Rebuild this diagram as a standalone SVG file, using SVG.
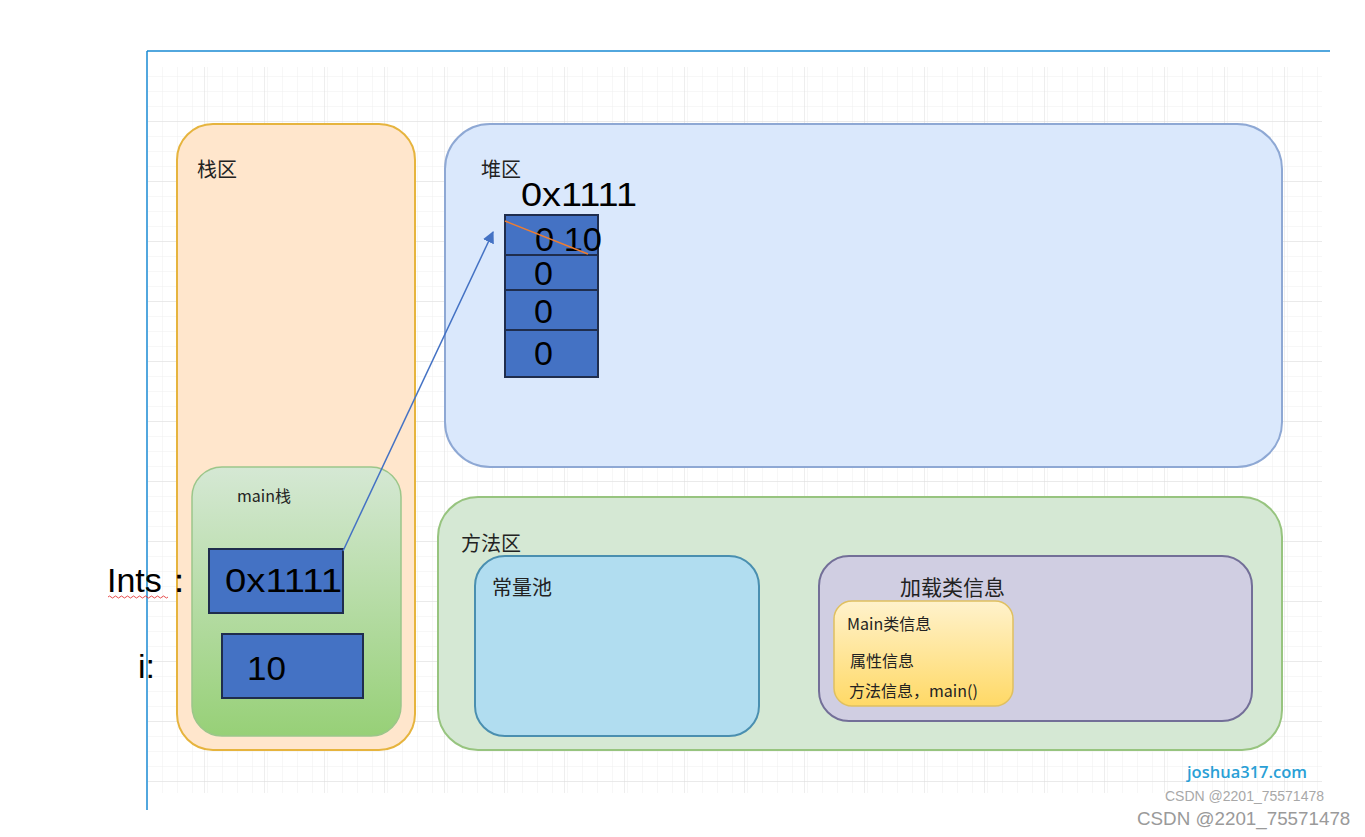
<svg xmlns="http://www.w3.org/2000/svg" width="1365" height="837" viewBox="0 0 1365 837">
<style>
.zh{font-family:"Noto Sans CJK SC","Liberation Sans",sans-serif;fill:#222}
.big{font-family:"Liberation Sans","Noto Sans",sans-serif;font-size:34px;fill:#000}
.cell{fill:#4472c4;stroke:#1f2d4d;stroke-width:2}
</style>
<defs>
<pattern id="minor" x="148" y="62" width="15" height="15" patternUnits="userSpaceOnUse">
<path d="M15 0V15M0 15H15" fill="none" stroke="#efefef" stroke-width="1"/>
</pattern>
<pattern id="major" x="145" y="62" width="60" height="60" patternUnits="userSpaceOnUse">
<path d="M60 0V60M0 60H60" fill="none" stroke="#dcdcdc" stroke-width="1"/>
</pattern>
<linearGradient id="gGreen" x1="0" y1="0" x2="0" y2="1">
<stop offset="0" stop-color="#d5e8d4"/><stop offset="1" stop-color="#97d077"/>
</linearGradient>
<linearGradient id="gYellow" x1="0" y1="0" x2="0" y2="1">
<stop offset="0" stop-color="#fff2cc"/><stop offset="1" stop-color="#ffd966"/>
</linearGradient>
<marker id="arr" viewBox="0 0 10 10" refX="9" refY="5" markerWidth="12" markerHeight="12" markerUnits="userSpaceOnUse" orient="auto">
<path d="M0 0L10 5L0 10Z" fill="#4472c4"/>
</marker>
</defs>
<rect width="1365" height="837" fill="#fff"/>
<g id="grid">
<rect x="148" y="67" width="1174" height="726" fill="url(#minor)"/>
<rect x="148" y="67" width="1174" height="726" fill="url(#major)"/>
</g>
<g id="frame" stroke="#1a8ad4" stroke-width="1.5" fill="none">
<path d="M147 51H1330M147 51V810"/>
</g>
<g id="stack-area">
<rect x="177" y="124" width="238" height="626" rx="36" fill="#ffe6cc" stroke="#e6b43e" stroke-width="2"/>
<text class="zh" x="197" y="177" font-size="20">栈区</text>
</g>
<g id="heap-area">
<rect x="445" y="124" width="837" height="343" rx="45" fill="#dae8fc" stroke="#8ea8d4" stroke-width="2"/>
<text class="zh" x="481" y="177" font-size="20">堆区</text>
<text class="big" x="521" y="206" textLength="116" lengthAdjust="spacingAndGlyphs">0x1111</text>
</g>
<g id="array">
<rect class="cell" x="505" y="215" width="93" height="40"/>
<rect class="cell" x="505" y="255" width="93" height="35"/>
<rect class="cell" x="505" y="290" width="93" height="40"/>
<rect class="cell" x="505" y="330" width="93" height="47"/>
<text class="big" x="535" y="251" textLength="67" lengthAdjust="spacingAndGlyphs">0 10</text>
<text class="big" x="534" y="285">0</text>
<text class="big" x="534" y="323">0</text>
<text class="big" x="534" y="365">0</text>
<line x1="505" y1="221" x2="588" y2="254" stroke="#ed7d31" stroke-width="1.5"/>
</g>
<g id="main-stack">
<rect x="192" y="467" width="209" height="269" rx="30" fill="url(#gGreen)" stroke="#9cc68a" stroke-width="1.5"/>
<text class="zh" x="237" y="502" font-size="16">main栈</text>
</g>
<g id="var-ints">
<rect class="cell" x="209" y="549" width="134" height="64"/>
<text class="big" x="225" y="592" textLength="117" lengthAdjust="spacingAndGlyphs">0x1111</text>
<text class="big" x="107" y="592">Ints：</text>
<path d="M108 597q1.5-2 3 0t3 0t3 0t3 0t3 0t3 0t3 0t3 0t3 0t3 0t3 0t3 0t3 0t3 0t3 0t3 0t3 0t3 0t3 0t3 0" fill="none" stroke="#e02020" stroke-width="0.8"/>
</g>
<g id="var-i">
<rect class="cell" x="222" y="634" width="141" height="64"/>
<text class="big" x="247" y="680" textLength="39" lengthAdjust="spacingAndGlyphs">10</text>
<text class="big" x="138" y="678">i:</text>
</g>
<g id="method-area">
<rect x="438" y="497" width="844" height="253" rx="40" fill="#d5e8d4" stroke="#97c47f" stroke-width="2"/>
<text class="zh" x="461" y="551" font-size="20">方法区</text>
</g>
<g id="const-pool">
<rect x="475" y="556" width="284" height="180" rx="30" fill="#b1ddf0" stroke="#4a8fb0" stroke-width="2"/>
<text class="zh" x="492" y="595" font-size="20">常量池</text>
</g>
<g id="class-info">
<rect x="819" y="556" width="433" height="165" rx="30" fill="#d0cee2" stroke="#736f98" stroke-width="2"/>
<text class="zh" x="900" y="595" font-size="21">加载类信息</text>
</g>
<g id="main-class">
<rect x="834" y="601" width="179" height="105" rx="18" fill="url(#gYellow)" stroke="#e0c060" stroke-width="1.5"/>
<text class="zh" x="847" y="630" font-size="16">Main类信息</text>
<text class="zh" x="850" y="667" font-size="16">属性信息</text>
<text class="zh" x="849" y="697" font-size="16">方法信息，main()</text>
</g>
<g id="connectors">
<line x1="343" y1="551" x2="493" y2="232" stroke="#4472c4" stroke-width="1.5" marker-end="url(#arr)"/>
</g>
<g id="watermarks">
<text x="1187" y="778" font-family="Open Sans, Liberation Sans, sans-serif" font-size="16.5" font-weight="600" fill="#2a9fd6">joshua317.com</text>
<text x="1165" y="801" font-family="Liberation Sans, sans-serif" font-size="14" fill="#a8a8a8">CSDN @2201_75571478</text>
<text x="1137" y="825" font-family="Liberation Sans, sans-serif" font-size="18.8" fill="#9a9a9a">CSDN @2201_75571478</text>
</g>
</svg>
